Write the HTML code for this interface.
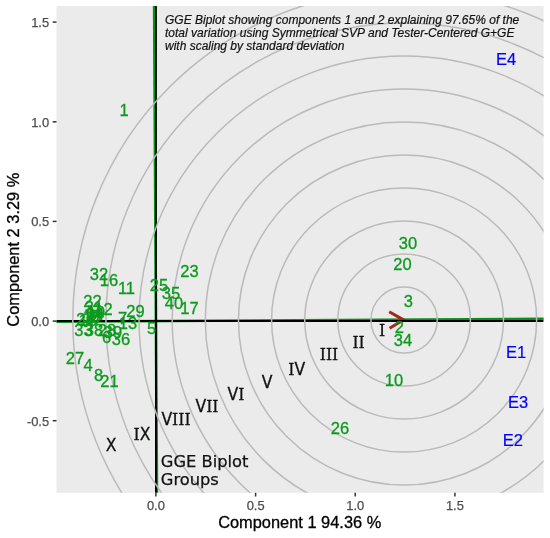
<!DOCTYPE html><html><head><meta charset="utf-8"><title>GGE Biplot</title>
<style>html,body{margin:0;padding:0;background:#fff}svg{display:block}text{font-family:"Liberation Sans",Arial,sans-serif}.g{fill:#0d9a1e;stroke:#0d9a1e;stroke-width:.3px;font-size:16.5px;text-anchor:middle}.e{fill:#0000ff;stroke:#0000ff;stroke-width:.2px;font-size:16.5px;text-anchor:middle}.t{fill:#4d4d4d;stroke:#4d4d4d;stroke-width:.25px;font-size:12.9px}.r{fill:#111;stroke:#111;stroke-width:.3px;font-size:17.4px;text-anchor:middle;font-family:"DejaVu Sans Condensed","DejaVu Sans","Liberation Sans",sans-serif}.m{font-family:"DejaVu Serif Condensed","DejaVu Serif","Liberation Serif",serif}</style></head><body>
<svg width="550" height="538" viewBox="0 0 550 538">
<rect width="550" height="538" fill="#fff"/>
<defs><clipPath id="p"><rect x="56.5" y="6" width="487.1" height="486.8"/></clipPath></defs>
<rect x="56.5" y="6" width="487.1" height="486.8" fill="#ebebeb"/>
<g clip-path="url(#p)">
<line x1="-544.04" y1="324.97" x2="855.94" y2="317.13" stroke="#079019" stroke-width="2.7"/>
<line x1="159.87" y1="1021.04" x2="152.03" y2="-378.94" stroke="#079019" stroke-width="2.7"/>
<polyline points="389.2,311.7 403.6,319.9 389.6,328.2" fill="none" stroke="#a3271c" stroke-width="3" stroke-linejoin="miter"/>
<line x1="56.5" y1="321.05" x2="543.6" y2="321.05" stroke="#000" stroke-width="1.9"/>
<line x1="155.95" y1="6" x2="155.95" y2="492.8" stroke="#000" stroke-width="1.9"/>
<g fill="none" stroke="#bababa" stroke-width="1.5">
<ellipse cx="404.1" cy="320.1" rx="33.13" ry="33.00"/>
<ellipse cx="404.1" cy="320.1" rx="66.26" ry="66.00"/>
<ellipse cx="404.1" cy="320.1" rx="99.39" ry="99.00"/>
<ellipse cx="404.1" cy="320.1" rx="132.52" ry="132.00"/>
<ellipse cx="404.1" cy="320.1" rx="165.65" ry="165.00"/>
<ellipse cx="404.1" cy="320.1" rx="198.78" ry="198.00"/>
<ellipse cx="404.1" cy="320.1" rx="231.91" ry="231.00"/>
<ellipse cx="404.1" cy="320.1" rx="265.04" ry="264.00"/>
<ellipse cx="404.1" cy="320.1" rx="298.17" ry="297.00"/>
<ellipse cx="404.1" cy="320.1" rx="331.30" ry="330.00"/>
</g>
<text class="g" x="124" y="115.9">1</text>
<text class="g" x="408" y="249.4">30</text>
<text class="g" x="402.4" y="270.4">20</text>
<text class="g" x="408.3" y="306.6">3</text>
<text class="g" x="399.4" y="332.5">2</text>
<text class="g" x="403" y="345.9">34</text>
<text class="g" x="394" y="385.9">10</text>
<text class="g" x="340" y="433.9">26</text>
<text class="g" x="99" y="280.4">32</text>
<text class="g" x="109" y="286.4">16</text>
<text class="g" x="126.5" y="294.4">11</text>
<text class="g" x="159" y="290.9">25</text>
<text class="g" x="189.5" y="276.9">23</text>
<text class="g" x="171" y="299.4">35</text>
<text class="g" x="174" y="309.4">40</text>
<text class="g" x="189.5" y="313.9">17</text>
<text class="g" x="92.5" y="306.9">22</text>
<text class="g" x="103.5" y="314.9">12</text>
<text class="g" x="122.5" y="323.9">7</text>
<text class="g" x="135.5" y="317.4">29</text>
<text class="g" x="128" y="329.4">13</text>
<text class="g" x="151.5" y="333.9">5</text>
<text class="g" x="83.5" y="335.9">33</text>
<text class="g" x="121" y="345.4">36</text>
<text class="g" x="106.5" y="343.4">6</text>
<text class="g" x="75" y="364.4">27</text>
<text class="g" x="88" y="371.4">4</text>
<text class="g" x="98.5" y="380.9">8</text>
<text class="g" x="109.5" y="386.9">21</text>
<text class="g" x="94" y="312.9">31</text>
<text class="g" x="90" y="319.9">9</text>
<text class="g" x="95" y="320.4">14</text>
<text class="g" x="92" y="322.4">15</text>
<text class="g" x="96" y="317.9">19</text>
<text class="g" x="93" y="324.4">37</text>
<text class="g" x="85.5" y="324.9">24</text>
<text class="g" x="88" y="326.4">18</text>
<text class="g" x="94" y="336.4">38</text>
<text class="g" x="107" y="336.4">28</text>
<text class="g" x="113" y="337.9">39</text>
<text class="e" x="506" y="64.9">E4</text>
<text class="e" x="516" y="357.9">E1</text>
<text class="e" x="518" y="407.9">E3</text>
<text class="e" x="512.8" y="446.2">E2</text>
<text class="r" x="382.2" y="336.4"><tspan class="m">I</tspan></text>
<text class="r" x="358.6" y="347.6"><tspan class="m">II</tspan></text>
<text class="r" x="329" y="360.4"><tspan class="m">III</tspan></text>
<text class="r" x="296.8" y="375.0"><tspan class="m">I</tspan>V</text>
<text class="r" x="267" y="388.4">V</text>
<text class="r" x="236" y="400.4">V<tspan class="m">I</tspan></text>
<text class="r" x="207" y="412.4">V<tspan class="m">II</tspan></text>
<text class="r" x="176" y="425.4">V<tspan class="m">III</tspan></text>
<text class="r" x="142" y="440.4"><tspan class="m">I</tspan>X</text>
<text class="r" x="111" y="451.4">X</text>
<text x="160.8" y="466.5" style="font-family:'DejaVu Sans',sans-serif;font-size:16.3px;fill:#111;stroke:#111;stroke-width:.25px">GGE Biplot</text>
<text x="160.8" y="485.1" style="font-family:'DejaVu Sans',sans-serif;font-size:16.3px;fill:#111;stroke:#111;stroke-width:.25px">Groups</text>
</g>
<text x="165" y="24.00" font-style="italic" font-size="12" fill="#111" stroke="#111" stroke-width=".2">GGE Biplot showing components 1 and 2 explaining 97.65% of the</text>
<text x="165" y="36.75" font-style="italic" font-size="12" fill="#111" stroke="#111" stroke-width=".2">total variation using Symmetrical SVP and Tester-Centered G+GE</text>
<text x="165" y="49.50" font-style="italic" font-size="12" fill="#111" stroke="#111" stroke-width=".2">with scaling by standard deviation</text>
<line x1="52.7" y1="22.1" x2="56.5" y2="22.1" stroke="#333" stroke-width="1.5"/>
<text class="t" x="49.1" y="27.1" text-anchor="end">1.5</text>
<line x1="52.7" y1="121.8" x2="56.5" y2="121.8" stroke="#333" stroke-width="1.5"/>
<text class="t" x="49.1" y="126.8" text-anchor="end">1.0</text>
<line x1="52.7" y1="221.4" x2="56.5" y2="221.4" stroke="#333" stroke-width="1.5"/>
<text class="t" x="49.1" y="226.4" text-anchor="end">0.5</text>
<line x1="52.7" y1="321.1" x2="56.5" y2="321.1" stroke="#333" stroke-width="1.5"/>
<text class="t" x="49.1" y="326.1" text-anchor="end">0.0</text>
<line x1="52.7" y1="420.7" x2="56.5" y2="420.7" stroke="#333" stroke-width="1.5"/>
<text class="t" x="49.1" y="425.7" text-anchor="end">-0.5</text>
<line x1="155.9" y1="492.8" x2="155.9" y2="496.5" stroke="#333" stroke-width="1.5"/>
<text class="t" x="155.9" y="510.0" text-anchor="middle">0.0</text>
<line x1="255.6" y1="492.8" x2="255.6" y2="496.5" stroke="#333" stroke-width="1.5"/>
<text class="t" x="255.6" y="510.0" text-anchor="middle">0.5</text>
<line x1="355.2" y1="492.8" x2="355.2" y2="496.5" stroke="#333" stroke-width="1.5"/>
<text class="t" x="355.2" y="510.0" text-anchor="middle">1.0</text>
<line x1="454.9" y1="492.8" x2="454.9" y2="496.5" stroke="#333" stroke-width="1.5"/>
<text class="t" x="454.9" y="510.0" text-anchor="middle">1.5</text>
<text x="299.7" y="527.7" text-anchor="middle" font-size="16.4" fill="#000" stroke="#000" stroke-width=".3">Component 1 94.36 %</text>
<text transform="translate(19,249.7) rotate(-90)" text-anchor="middle" font-size="16.4" fill="#000" stroke="#000" stroke-width=".3">Component 2 3.29 %</text>
</svg></body></html>
